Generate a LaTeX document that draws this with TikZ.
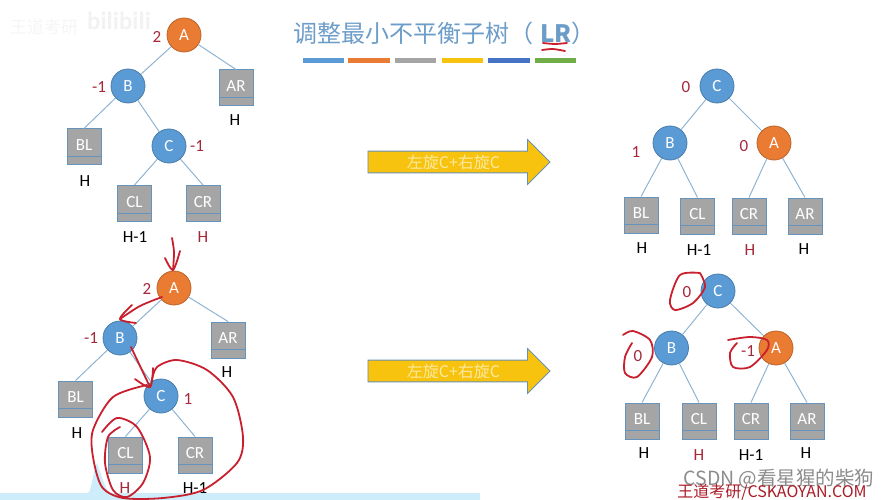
\documentclass[tikz,border=0pt]{standalone}
\usepackage{fontspec}
\usetikzlibrary{shapes.arrows}
\setmainfont{Carlito}
\newfontfamily\cjk{Noto Sans CJK SC}
\definecolor{nodeblue}{HTML}{5B9BD5}
\definecolor{nodeorange}{HTML}{E97B33}
\definecolor{boxgray}{HTML}{A5A5A5}
\definecolor{edgeblue}{HTML}{8FB4D3}
\definecolor{bfred}{HTML}{A5283A}
\definecolor{ink}{HTML}{C8202E}
\definecolor{titleblue}{HTML}{6C9CC8}
\definecolor{arrowgold}{HTML}{F7C30E}
\definecolor{arrowtext}{HTML}{FCE9A0}
\definecolor{bandblue}{HTML}{CDEDFA}
\definecolor{bardark}{HTML}{4472C4}
\definecolor{bargreen}{HTML}{70AD47}
\tikzset{
  vtx/.style={circle,minimum size=34pt,inner sep=0pt,draw=#1!80!black,line width=.8pt,fill=#1,text=white,font=\fontsize{17}{17}\selectfont},
  bluev/.style={vtx=nodeblue},
  orangev/.style={vtx=nodeorange},
  subtree/.style={rectangle,minimum width=34pt,minimum height=36pt,inner sep=0pt,fill=boxgray,draw=nodeblue!70!gray,line width=1pt,text=white,font=\fontsize{17}{17}\selectfont,
    path picture={\draw[nodeblue!70!gray,line width=.9pt] ([yshift=8.5pt]path picture bounding box.south west) -- ([yshift=8.5pt]path picture bounding box.south east);}},
  hgt/.style={text=#1,font=\fontsize{17}{17}\selectfont,inner sep=0pt},
  hgt/.default=black,
  bf/.style={text=bfred,font=\fontsize{17}{17}\selectfont,inner sep=0pt},
  link/.style={edgeblue,line width=1pt},
  scrib/.style={ink,line width=1.8pt,line cap=round,line join=round},
  rotarrow/.style={single arrow,draw=nodeblue!60!gray,line width=.8pt,fill=arrowgold,minimum width=45pt,minimum height=182pt,single arrow head extend=11pt,single arrow tip angle=90,inner xsep=0pt,inner ysep=2.5pt,text=arrowtext,font=\cjk\fontsize{16}{16}\selectfont},
  bar/.style={minimum height=5pt,inner sep=0pt,minimum width=41.5pt,fill=#1},
}
\newcommand{\up}[1]{\raisebox{4pt}{#1}}
\begin{document}
\begin{tikzpicture}[x=1pt,y=-1pt]
\useasboundingbox (0,0) rectangle (889,500);
% bottom band
\fill[bandblue] (0,493) -- (88,493) .. controls (92,490) and (93,470) .. (97,463) .. controls (100,470) and (104,488) .. (110,493) -- (480,493) -- (480,500) -- (0,500) -- cycle;
% watermark
\node[text=black!4,font=\cjk\fontsize{17}{17}\selectfont,inner sep=0pt] (wm1) at (44,27) {王道考研};
\node[text=black!5,font=\bfseries\fontsize{25}{25}\selectfont,inner sep=0pt] (wm2) at (119,21) {bilibili};
% title
\node[text=titleblue,font=\cjk\fontsize{24}{24}\selectfont,inner sep=0pt,anchor=west] (title) at (293,33) {调整最小不平衡子树（\hspace*{7pt}\textbf{LR}）};
\node[bar=nodeblue] (b1) at (323.5,60.5) {};
\node[bar=nodeorange] (b2) at (369,60.5) {};
\node[bar=boxgray] (b3) at (415.5,60.5) {};
\node[bar=arrowgold] (b4) at (462.5,60.5) {};
\node[bar=bardark] (b5) at (509,60.5) {};
\node[bar=bargreen] (b6) at (555.5,60.5) {};
% arrows
\node[rotarrow] (r1) at (453.5,162) {左旋C+右旋C};
\node[rotarrow] (r2) at (453.5,371) {左旋C+右旋C};
% tree top left
\node[orangev] (a1) at (184,35) {A};
\node[bluev] (b1v) at (128,86) {B};
\node[bluev] (c1) at (169,146) {C};
\node[subtree] (ar1) at (236,88) {\up{AR}};
\node[subtree] (bl1) at (84,147) {\up{BL}};
\node[subtree] (cl1) at (134.5,203.5) {\up{CL}};
\node[subtree] (cr1) at (203,203.5) {\up{CR}};
\draw[link] (a1) -- (b1v);
\draw[link] (a1) -- (ar1.north);
\draw[link] (b1v) -- (bl1.north);
\draw[link] (b1v) -- (c1);
\draw[link] (c1) -- (cl1.north);
\draw[link] (c1) -- (cr1.north);
\node[bf] (l1) at (157,37) {2};
\node[bf] (l2) at (99,87) {-1};
\node[bf] (l3) at (197,146) {-1};
\node[hgt] (h1) at (235,120) {H};
\node[hgt] (h2) at (85,181) {H};
\node[hgt] (h3) at (135,237) {H-1};
\node[hgt=bfred] (h4) at (203,237) {H};
% tree bottom left
\node[orangev] (a2) at (174,288) {A};
\node[bluev] (b2v) at (120,338) {B};
\node[bluev] (c2) at (161,396) {C};
\node[subtree] (ar2) at (228,340) {\up{AR}};
\node[subtree] (bl2) at (75.5,399) {\up{BL}};
\node[subtree] (cl2) at (125.5,455) {\up{CL}};
\node[subtree] (cr2) at (195,455) {\up{CR}};
\draw[link] (a2) -- (b2v);
\draw[link] (a2) -- (ar2.north);
\draw[link] (b2v) -- (bl2.north);
\draw[link] (b2v) -- (c2);
\draw[link] (c2) -- (cl2.north);
\draw[link] (c2) -- (cr2.north);
\node[bf] (l4) at (147,289) {2};
\node[bf] (l5) at (91,338) {-1};
\node[bf] (l6) at (188,399) {1};
\node[hgt] (h5) at (227,372) {H};
\node[hgt] (h6) at (77,433) {H};
\node[hgt=bfred] (h7) at (125,488) {H};
\node[hgt] (h8) at (195,488) {H-1};
% tree top right
\node[bluev] (c3) at (717,86) {C};
\node[bluev] (b3v) at (670,143) {B};
\node[orangev] (a3) at (774,143) {A};
\node[subtree] (bl3) at (641,215) {\up{BL}};
\node[subtree] (cl3) at (697.5,216) {\up{CL}};
\node[subtree] (cr3) at (749,216) {\up{CR}};
\node[subtree] (ar3) at (805,216) {\up{AR}};
\draw[link] (c3) -- (b3v);
\draw[link] (c3) -- (a3);
\draw[link] (b3v) -- (bl3.north);
\draw[link] (b3v) -- (cl3.north);
\draw[link] (a3) -- (cr3.north);
\draw[link] (a3) -- (ar3.north);
\node[bf] (l7) at (686,87) {0};
\node[bf] (l8) at (636,152) {1};
\node[bf] (l9) at (744,146) {0};
\node[hgt] (h9) at (642,248) {H};
\node[hgt] (h10) at (699,250) {H-1};
\node[hgt=bfred] (h11) at (750,250) {H};
\node[hgt] (h12) at (804,249) {H};
% tree bottom right
\node[bluev] (c4) at (718,291) {C};
\node[bluev] (b4v) at (671.5,348) {B};
\node[orangev] (a4) at (776,348) {A};
\node[subtree] (bl4) at (642,421) {\up{BL}};
\node[subtree] (cl4) at (699,421) {\up{CL}};
\node[subtree] (cr4) at (751,421) {\up{CR}};
\node[subtree] (ar4) at (807,421) {\up{AR}};
\draw[link] (c4) -- (b4v);
\draw[link] (c4) -- (a4);
\draw[link] (b4v) -- (bl4.north);
\draw[link] (b4v) -- (cl4.north);
\draw[link] (a4) -- (cr4.north);
\draw[link] (a4) -- (ar4.north);
\node[bf] (l10) at (687,292) {0};
\node[bf] (l11) at (638,356) {0};
\node[bf] (l12) at (748,351) {-1};
\node[hgt] (h13) at (644,453) {H};
\node[hgt=bfred] (h14) at (699,455) {H};
\node[hgt] (h15) at (751,455) {H-1};
\node[hgt] (h16) at (806,453) {H};
% red handwriting
\draw[scrib] plot[smooth] coordinates {(172,238) (174,252) (173,270)};
\draw[scrib] plot[smooth] coordinates {(165,258) (173,270) (180,251)};
\draw[scrib] plot[smooth] coordinates {(162,297) (140,306) (120,319)};
\draw[scrib] plot[smooth] coordinates {(132,305) (120,319) (136,323)};
\draw[scrib] plot[smooth] coordinates {(131,347) (140,366) (150,387)};
\draw[scrib] plot[smooth] coordinates {(135,379) (150,387) (153,368)};
\draw[scrib] plot[smooth] coordinates {(147,385) (113,397) (93,430) (93,457) (102,487) (123,498) (163,498) (203,490) (237,463) (243,437) (233,397) (207,370) (177,360) (157,367) (152,380)};
\draw[scrib] plot[smooth] coordinates {(102,432) (117,418) (137,427) (150,457) (143,483) (127,497) (113,490) (105,463) (108,437) (120,427)};
\draw[scrib] plot[smooth] coordinates {(700,273) (680,275) (670,300) (675,310) (693,303) (705,287) (700,273)};
\draw[scrib] plot[smooth] coordinates {(623,335) (633,331) (650,340) (652,357) (637,377) (625,373) (625,357) (632,343)};
\draw[scrib] plot[smooth] coordinates {(728,340) (750,337) (767,340) (767,350) (750,367) (733,367) (730,353) (737,343)};
\draw[scrib] plot[smooth] coordinates {(543,43) (555,44) (567,43)};
\draw[scrib] plot[smooth] coordinates {(542,50) (553,49) (565,51)};
% credits
\node[text=black!45,font=\cjk\fontsize{19.5}{19.5}\selectfont,inner sep=0pt] (csdn) at (779,479) {CSDN @看星猩的柴狗};
\node[text=ink!85!black,font=\cjk\fontsize{16}{16}\selectfont,inner sep=0pt] (zd) at (772,492.5) {王道考研/CSKAOYAN.COM};
\end{tikzpicture}
\end{document}
